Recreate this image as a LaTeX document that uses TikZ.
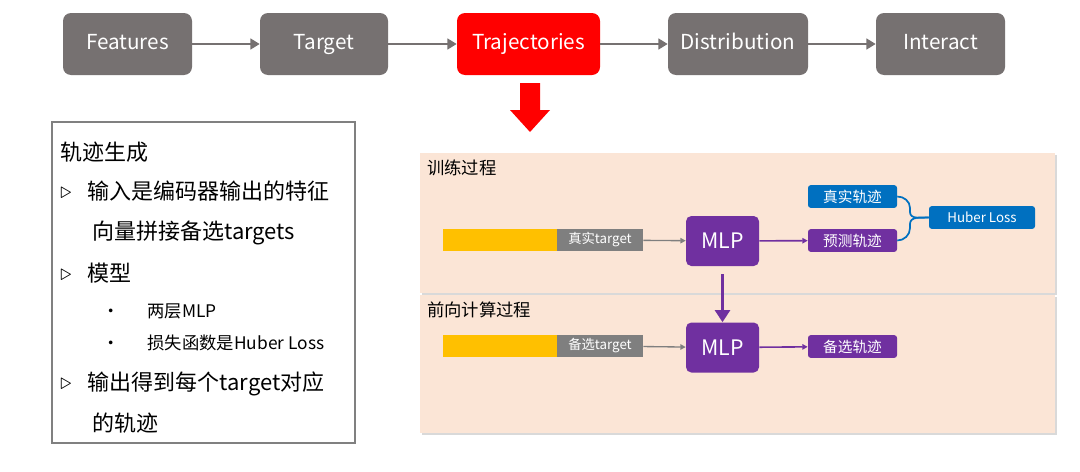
\documentclass[tikz,border=0pt]{standalone}
\usepackage{fontspec}
\setmainfont{Noto Sans CJK SC}
\usetikzlibrary{arrows.meta}
\definecolor{topgray}{HTML}{767171}
\definecolor{tred}{HTML}{FF0000}
\definecolor{peach}{HTML}{FBE5D6}
\definecolor{mpurple}{HTML}{7030A0}
\definecolor{mblue}{HTML}{0070C0}
\definecolor{barY}{HTML}{FFC000}
\definecolor{lgray}{HTML}{7F7F7F}
\newcommand{\mybul}{\raisebox{1pt}{\fontsize{16}{18}\selectfont$\triangleright$}\hspace{12pt}}
\begin{document}
\begin{tikzpicture}[x=0.75pt,y=-0.75pt,
  top/.style={draw=none,fill=topgray,rounded corners=6pt,text=white,font=\fontsize{15.5}{18}\selectfont,minimum height=46.5pt,inner sep=0pt,text height=11pt,text depth=3pt},
  tarr/.style={-{Triangle[length=7pt,width=8pt]},topgray,line width=2.2pt},
  mlp/.style={fill=mpurple,rounded corners=4pt,text=white,font=\fontsize{16}{18}\selectfont,minimum width=54.75pt,minimum height=37.5pt,inner sep=0pt},
  lab/.style={text=white,font=\fontsize{11}{12}\selectfont,minimum width=66.75pt,minimum height=17pt,inner sep=0pt,rounded corners=2pt},
  gl/.style={fill=lgray,text=white,font=\fontsize{10}{12}\selectfont,minimum width=64.5pt,minimum height=16.5pt,inner sep=0pt},
  parr/.style={-{Triangle[length=4pt,width=4pt]},mpurple,line width=1.2pt},
  garr/.style={-{Triangle[length=4pt,width=4pt]},lgray,line width=1pt},
  lt/.style={anchor=west,font=\fontsize{16.5}{18}\selectfont,inner sep=0pt},
  st/.style={anchor=west,font=\fontsize{13}{14}\selectfont,inner sep=0pt}]
\useasboundingbox (0,0) rectangle (1080,471);
\fill[white] (0,0) rectangle (1080,471);
% top row
\node[top,minimum width=96.75pt] (f) at (127.5,44) {Features};
\node[top,minimum width=96pt] (t) at (324,44) {Target};
\node[top,fill=tred,minimum width=107.25pt] (tr) at (528.5,44) {Trajectories};
\node[top,minimum width=105pt] (d) at (738,44) {Distribution};
\node[top,minimum width=96.75pt] (i) at (940.5,44) {Interact};
\draw[tarr] (f) -- (t);
\draw[tarr] (t) -- (tr);
\draw[tarr] (tr) -- (d);
\draw[tarr] (d) -- (i);
% red block arrow
\fill[tred] (520,83) -- (540,83) -- (540,110) -- (550,110) -- (530,132) -- (510,110) -- (520,110) -- cycle;
% left box
\draw[gray,line width=0.8pt] (52,122) rectangle (355,443);
\node[lt] (l1) at (60,152) {轨迹生成};
\node[lt] (l2) at (60,191) {\mybul 输入是编码器输出的特征};
\node[lt] (l3) at (92,233) {向量拼接备选targets};
\node[lt] (l4) at (60,273) {\mybul 模型};
\node[st] (l5) at (102,311) {•\hspace{21pt}两层MLP};
\node[st] (l6) at (102,343) {•\hspace{21pt}损失函数是Huber Loss};
\node[lt] (l7) at (60,384) {\mybul 输出得到每个target对应};
\node[lt] (l8) at (92,423) {的轨迹};
% panels
\fill[black!15] (422,155) rectangle (1057,295);
\fill[peach] (420,153) rectangle (1055,293);
\fill[black!15] (422,297) rectangle (1057,435);
\fill[peach] (420,295) rectangle (1055,433);
\node[anchor=west,font=\fontsize{13}{14}\selectfont,inner sep=0pt] (p1) at (427,168) {训练过程};
\node[anchor=west,font=\fontsize{13}{14}\selectfont,inner sep=0pt] (p2) at (427,310) {前向计算过程};
% upper flow
\fill[barY] (443,229) rectangle (557,251);
\node[gl] (g1) at (600,240) {真实target};
\node[mlp] (m1) at (722.5,241) {MLP};
\node[lab,fill=mpurple] (y1) at (852.5,240.5) {预测轨迹};
\node[lab,fill=mblue] (z1) at (852.5,196.5) {真实轨迹};
\node[lab,fill=mblue,minimum width=79.5pt,font=\fontsize{10}{12}\selectfont] (h) at (982,217.5) {Huber Loss};
\draw[garr] (g1) -- (m1);
\draw[parr] (m1) -- (y1);
\draw[mblue,line width=1.3pt] (z1.east) to[out=0,in=90] (910,208) -- (910,212) to[out=-90,in=180] (h.west);
\draw[mblue,line width=1.3pt] (y1.east) to[out=0,in=-90] (910,228) -- (910,224) to[out=90,in=180] (h.west);
% lower flow
\fill[barY] (443,335) rectangle (557,357);
\node[gl] (g2) at (600,346) {备选target};
\node[mlp] (m2) at (722.5,347.5) {MLP};
\node[lab,fill=mpurple] (y2) at (852.5,346.5) {备选轨迹};
\draw[garr] (g2) -- (m2);
\draw[parr] (m2) -- (y2);
\draw[-{Triangle[length=9pt,width=11pt]},mpurple,line width=2.5pt] (m1.south) ++(0,8) coordinate (ds) (ds) -- (m2.north);
\end{tikzpicture}
\end{document}
